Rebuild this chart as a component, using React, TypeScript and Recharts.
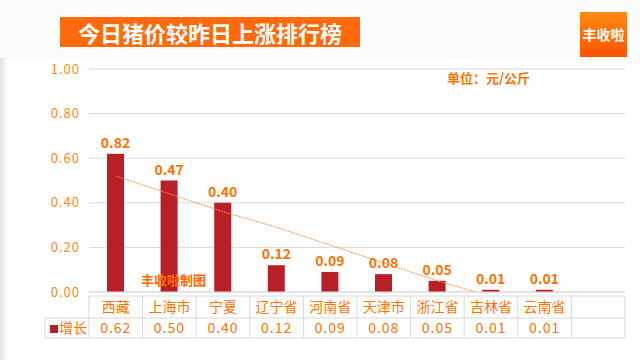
import { ComposedChart, Bar, Line, XAxis, YAxis, CartesianGrid, LabelList } from "recharts";

const categories = ["西藏", "上海市", "宁夏", "辽宁省", "河南省", "天津市", "浙江省", "吉林省", "云南省", ""];
const growth = [0.62, 0.5, 0.4, 0.12, 0.09, 0.08, 0.05, 0.01, 0.01, null];
// labels printed above the bars (they differ from the table in the source)
const barLabels = ["0.82", "0.47", "0.40", "0.12", "0.09", "0.08", "0.05", "0.01", "0.01", ""];
// linear trend line
const trend = [0.52, 0.44, 0.36, 0.29, 0.21, 0.13, 0.05, -0.02, -0.1, null];
const yTicks = [0, 0.2, 0.4, 0.6, 0.8, 1];

const data = categories.map((name, i) => ({
  name,
  value: growth[i],
  label: barLabels[i],
  trend: trend[i],
}));

const FONT = '"Noto Sans CJK SC", "Noto Sans", sans-serif';
const ORANGE = "#ff7300";
const GRID = "#d9d9d9";
const BAR = "#b91f27";

function TableTick(props: any) {
  const { x, y, index, payload } = props;
  const band = (props.width || 536) / categories.length;
  const x0 = x - band / 2;
  const top = y + 4;
  const mid = top + 22;
  const bot = mid + 20;
  const v = growth[index];
  const last = index === categories.length - 1;
  return (
    <g>
      <line x1={x0} y1={top} x2={x0 + band} y2={top} stroke={GRID} />
      <line x1={x0} y1={mid} x2={x0 + band} y2={mid} stroke={GRID} />
      <line x1={x0} y1={bot} x2={x0 + band} y2={bot} stroke={GRID} />
      <line x1={x0} y1={top} x2={x0} y2={bot} stroke={GRID} />
      {last && <line x1={x0 + band} y1={top} x2={x0 + band} y2={bot} stroke={GRID} />}
      <text x={x} y={top + 16} textAnchor="middle" fontSize={14} fill={ORANGE} fontFamily={FONT}>
        {payload.value}
      </text>
      <text x={x} y={mid + 15} textAnchor="middle" fontSize={14} fill={ORANGE} fontFamily={FONT} letterSpacing={1}>
        {v == null ? "" : v.toFixed(2)}
      </text>
      {index === 0 && (
        <g>
          <line x1={45} y1={mid} x2={x0} y2={mid} stroke={GRID} />
          <line x1={45} y1={bot} x2={x0} y2={bot} stroke={GRID} />
          <line x1={45} y1={mid} x2={45} y2={bot} stroke={GRID} />
          <rect x={50} y={mid + 7} width={8} height={8} fill={BAR} />
          <text x={59} y={mid + 15} fontSize={14} fill={ORANGE} fontFamily={FONT}>
            增长
          </text>
        </g>
      )}
    </g>
  );
}

export default function App() {
  return (
    <div
      style={{
        position: "fixed",
        left: 0,
        top: 0,
        width: 640,
        height: 360,
        background: "#fff",
        overflow: "hidden",
        fontFamily: FONT,
      }}
    >
      <div style={{ position: "absolute", left: 0, top: 0, width: 640, height: 58, background: "#fcfcfc" }} />
      <div
        style={{
          position: "absolute",
          left: 0,
          top: 58,
          width: 8,
          height: 302,
          background: "linear-gradient(to right, #e2e2e2, #ffffff)",
        }}
      />
      <ComposedChart
        width={640}
        height={360}
        data={data}
        margin={{ top: 69, right: 15, bottom: 0, left: 0 }}
        style={{ position: "absolute", left: 0, top: 0 }}
      >
        <CartesianGrid vertical={false} stroke={GRID} />
        <XAxis
          dataKey="name"
          height={68}
          axisLine={{ stroke: GRID }}
          tickLine={false}
          tickSize={0}
          tickMargin={0}
          interval={0}
          tick={<TableTick />}
        />
        <YAxis
          width={89}
          domain={[0, 1]}
          ticks={yTicks}
          allowDataOverflow
          axisLine={false}
          tickLine={false}
          tickMargin={3}
          tickFormatter={(v: number) => v.toFixed(2)}
          tick={{ fill: "#ff8a1c", fontSize: 13, fontFamily: FONT, letterSpacing: 1 }}
        />
        <Bar dataKey="value" fill={BAR} barSize={17} isAnimationActive={false}>
          <LabelList
            dataKey="label"
            position="top"
            offset={6}
            fill={ORANGE}
            fontSize={14}
            fontWeight="bold"
            fontFamily={FONT}
          />
        </Bar>
        <Line
          dataKey="trend"
          type="linear"
          stroke="#f7904a"
          strokeWidth={1}
          strokeDasharray="2 1"
          dot={false}
          activeDot={false}
          isAnimationActive={false}
        />
      </ComposedChart>
      <div
        style={{
          position: "absolute",
          left: 60,
          top: 17,
          width: 300,
          height: 30,
          background: "#ff6a0c",
          color: "#fff",
          fontSize: 22,
          fontWeight: "bold",
          lineHeight: "30px",
          textAlign: "center",
        }}
      >
        今日猪价较昨日上涨排行榜
      </div>
      <div
        style={{
          position: "absolute",
          left: 580,
          top: 12,
          width: 47,
          height: 45,
          background: "linear-gradient(to bottom, #ff8a12, #ff5200)",
          color: "#fff",
          fontSize: 14,
          fontWeight: "bold",
          lineHeight: "45px",
          textAlign: "center",
        }}
      >
        丰收啦
      </div>
      <div
        style={{
          position: "absolute",
          left: 447,
          top: 69,
          fontSize: 13,
          fontWeight: "bold",
          color: ORANGE,
          lineHeight: "18px",
          whiteSpace: "nowrap",
        }}
      >
        单位：元/公斤
      </div>
      <div
        style={{
          position: "absolute",
          left: 141,
          top: 270,
          fontSize: 13,
          fontWeight: "bold",
          color: "#ff6a00",
          lineHeight: "20px",
          whiteSpace: "nowrap",
        }}
      >
        丰收啦制图
      </div>
    </div>
  );
}
